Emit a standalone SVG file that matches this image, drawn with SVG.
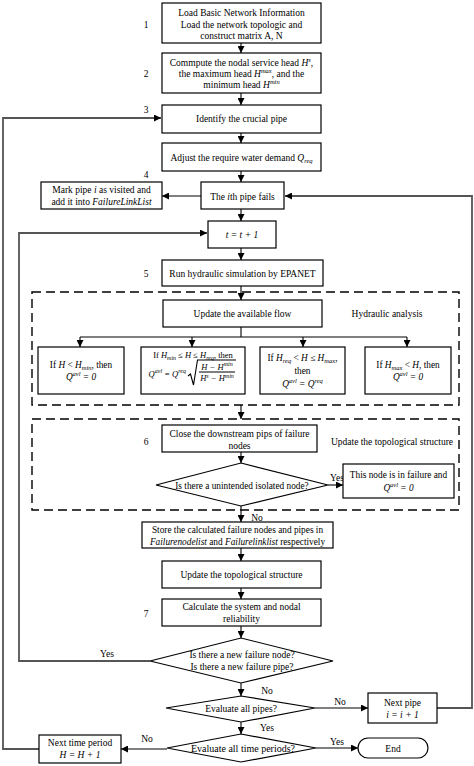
<svg xmlns="http://www.w3.org/2000/svg" width="474" height="766" viewBox="0 0 474 766">
<style>
text{font-family:"Liberation Serif","Times New Roman",serif;font-size:9.5px;fill:#000;text-anchor:middle}
.i{font-style:italic}
.box{fill:#fff;stroke:#000;stroke-width:1.2}
.dash{fill:none;stroke:#000;stroke-width:1.4;stroke-dasharray:9 5}
.ln{fill:none;stroke:#000;stroke-width:1.1}
.loop{fill:none;stroke:#555;stroke-width:1.8}
.f{font-size:8.5px}
.s{font-size:9.3px}
</style>
<defs>
<marker id="ah" viewBox="0 0 8 8" refX="8" refY="4" markerWidth="7" markerHeight="7" markerUnits="userSpaceOnUse" orient="auto">
<path d="M0,0 L8,4 L0,8 Z" fill="#000"/>
</marker>
</defs>
<rect width="474" height="766" fill="#fff"/>

<g id="groups">
<rect class="dash" x="32" y="292" width="427" height="113"/>
<rect class="dash" x="32" y="419" width="427" height="91"/>
<text x="387" y="317">Hydraulic analysis</text>
<text x="392" y="444.5">Update the topological structure</text>
</g>

<g id="steps">
<text x="146" y="27.5">1</text>
<text x="146" y="76.5">2</text>
<text x="146" y="113">3</text>
<text x="146" y="177.5">4</text>
<text x="146" y="277">5</text>
<text x="146" y="444.5">6</text>
<text x="146" y="616.5">7</text>
</g>

<g id="connectors">
<line class="ln" x1="241" y1="43" x2="241" y2="53" marker-end="url(#ah)"/>
<line class="ln" x1="241" y1="93" x2="241" y2="105" marker-end="url(#ah)"/>
<line class="ln" x1="241" y1="133" x2="241" y2="143" marker-end="url(#ah)"/>
<line class="ln" x1="241" y1="171" x2="241" y2="182" marker-end="url(#ah)"/>
<line class="ln" x1="201" y1="196" x2="162" y2="196" marker-end="url(#ah)"/>
<line class="ln" x1="241" y1="209" x2="241" y2="221" marker-end="url(#ah)"/>
<line class="ln" x1="241" y1="248" x2="241" y2="260" marker-end="url(#ah)"/>
<line class="ln" x1="241" y1="286" x2="241" y2="300" marker-end="url(#ah)"/>
<polyline class="ln" points="241,327 241,337"/>
<polyline class="ln" points="80,337 407,337"/>
<line class="ln" x1="80" y1="337" x2="80" y2="347" marker-end="url(#ah)"/>
<line class="ln" x1="192" y1="337" x2="192" y2="347" marker-end="url(#ah)"/>
<line class="ln" x1="303" y1="337" x2="303" y2="347" marker-end="url(#ah)"/>
<line class="ln" x1="407" y1="337" x2="407" y2="347" marker-end="url(#ah)"/>
<line class="ln" x1="241" y1="405" x2="241" y2="419" marker-end="url(#ah)"/>
<line class="ln" x1="241" y1="452" x2="241" y2="463" marker-end="url(#ah)"/>
<line class="ln" x1="328" y1="485" x2="343" y2="485" marker-end="url(#ah)"/>
<text x="330" y="481" style="text-anchor:start">Yes</text>
<line class="ln" x1="241" y1="506" x2="241" y2="522" marker-end="url(#ah)"/>
<text x="257" y="521">No</text>
<line class="ln" x1="241" y1="548" x2="241" y2="561" marker-end="url(#ah)"/>
<line class="ln" x1="241" y1="588" x2="241" y2="599" marker-end="url(#ah)"/>
<line class="ln" x1="241" y1="626" x2="241" y2="638" marker-end="url(#ah)"/>
<polyline class="loop" points="150,661 19,661 19,233 207,233" marker-end="url(#ah)"/>
<text x="107" y="657">Yes</text>
<line class="ln" x1="241" y1="683" x2="241" y2="696" marker-end="url(#ah)"/>
<text x="267" y="694">No</text>
<line class="ln" x1="315" y1="708" x2="368" y2="708" marker-end="url(#ah)"/>
<text x="340" y="705">No</text>
<polyline class="loop" points="437,708 472,708 472,196 285,196" marker-end="url(#ah)"/>
<line class="ln" x1="241" y1="722" x2="241" y2="734" marker-end="url(#ah)"/>
<text x="267" y="731">Yes</text>
<line class="ln" x1="167" y1="749" x2="121" y2="749" marker-end="url(#ah)"/>
<text x="147" y="742">No</text>
<polyline class="loop" points="39,749 3,749 3,118 161,118" marker-end="url(#ah)"/>
<line class="ln" x1="316" y1="748" x2="358" y2="748" marker-end="url(#ah)"/>
<text x="337" y="745">Yes</text>
</g>

<g id="n1">
<rect class="box" x="162" y="3" width="159" height="40"/>
<text x="241.5" y="15.5">Load Basic Network Information</text>
<text x="241.5" y="27.5">Load the network topologic and</text>
<text x="241.5" y="38.5">construct matrix A, N</text>
</g>

<g id="n2">
<rect class="box" x="162" y="53" width="159" height="40"/>
<text x="241.5" y="65.5">Commpute the nodal service head <tspan class="i">H</tspan><tspan class="i" font-size="6.5" dy="-4">s</tspan><tspan dy="4">,</tspan></text>
<text x="241.5" y="76.5">the maximum head <tspan class="i">H</tspan><tspan class="i" font-size="6.5" dy="-4">max</tspan><tspan dy="4">, and the</tspan></text>
<text x="241.5" y="87.5">minimum head <tspan class="i">H</tspan><tspan class="i" font-size="6.5" dy="-4">min</tspan></text>
</g>

<g id="n3">
<rect class="box" x="162" y="105" width="159" height="28"/>
<text x="241.5" y="121.5">Identify the crucial pipe</text>
</g>

<g id="n_adjust">
<rect class="box" x="162" y="143" width="159" height="28"/>
<text x="241.5" y="160.5">Adjust the require water demand <tspan class="i">Q</tspan><tspan class="i" font-size="6.5" dy="2">req</tspan></text>
</g>

<g id="n4">
<rect class="box" x="201" y="182" width="83" height="27"/>
<text x="242.5" y="199.5">The <tspan class="i">i</tspan>th pipe fails</text>
</g>

<g id="n_mark">
<rect class="box" x="41" y="182" width="121" height="27"/>
<text x="101.5" y="192.5">Mark pipe <tspan class="i">i</tspan> as visited and</text>
<text x="101.5" y="204.5">add it into <tspan class="i">FailureLinkList</tspan></text>
</g>

<g id="n_t">
<rect class="box" x="208" y="221" width="68" height="27"/>
<text x="242" y="238" class="i">t = t + 1</text>
</g>

<g id="n5">
<rect class="box" x="162" y="260" width="161" height="26"/>
<text x="242.5" y="276.5">Run hydraulic simulation by EPANET</text>
</g>

<g id="n_flow">
<rect class="box" x="163" y="300" width="159" height="27"/>
<text x="242.5" y="317">Update the available flow</text>
</g>

<g id="n_a">
<rect class="box" x="38" y="347" width="86" height="47"/>
<text x="81" y="367.5" class="s">If <tspan class="i">H</tspan> &lt; <tspan class="i">H</tspan><tspan class="i" font-size="6.5" dy="2">min</tspan><tspan dy="-2">, then</tspan></text>
<text x="81" y="380" class="i s">Q<tspan font-size="6.5" dy="-4">avl</tspan><tspan dy="4"> = 0</tspan></text>
</g>

<g id="n_b">
<rect class="box" x="141" y="347" width="104" height="47"/>
<text x="193" y="358" class="f">If <tspan class="i">H</tspan><tspan class="i" font-size="6" dy="2">min</tspan><tspan dy="-2"> ≤ </tspan><tspan class="i">H</tspan> ≤ <tspan class="i">H</tspan><tspan class="i" font-size="6" dy="2">req</tspan><tspan dy="-2">, then</tspan></text>
<text x="186" y="377" class="i f" style="text-anchor:end">Q<tspan font-size="6" dy="-4">avl</tspan><tspan dy="4"> = Q</tspan><tspan font-size="6" dy="-4">req</tspan></text>
<path class="ln" d="M188,376 L190.5,374 L193.5,385 L197.5,360 L236,360"/>
<line class="ln" x1="199" y1="372" x2="235" y2="372"/>
<text x="217" y="369.5" class="i f">H − H<tspan font-size="6" dy="-3.5">min</tspan></text>
<text x="217" y="381" class="i f">H<tspan font-size="6" dy="-3.5">s</tspan><tspan dy="3.5"> − H</tspan><tspan font-size="6" dy="-3.5">min</tspan></text>
</g>

<g id="n_c">
<rect class="box" x="260" y="347" width="85" height="47"/>
<text x="302.5" y="361" class="s">If <tspan class="i">H</tspan><tspan class="i" font-size="6.5" dy="2">req</tspan><tspan dy="-2"> &lt; </tspan><tspan class="i">H</tspan> ≤ <tspan class="i">H</tspan><tspan class="i" font-size="6.5" dy="2">max</tspan><tspan dy="-2">,</tspan></text>
<text x="302.5" y="374" class="s">then</text>
<text x="302.5" y="387" class="i s">Q<tspan font-size="6.5" dy="-4">avl</tspan><tspan dy="4"> = Q</tspan><tspan font-size="6.5" dy="-4">req</tspan></text>
</g>

<g id="n_d">
<rect class="box" x="365" y="347" width="86" height="47"/>
<text x="408" y="368" class="s">If <tspan class="i">H</tspan><tspan class="i" font-size="6.5" dy="2">max</tspan><tspan dy="-2"> &lt; </tspan><tspan class="i">H</tspan>, then</text>
<text x="408" y="380" class="i s">Q<tspan font-size="6.5" dy="-4">avl</tspan><tspan dy="4"> = 0</tspan></text>
</g>

<g id="n6">
<rect class="box" x="162" y="425" width="155" height="27"/>
<text x="239.5" y="436.5">Close the downstream pips of failure</text>
<text x="239.5" y="448.5">nodes</text>
</g>

<g id="n_iso">
<polygon class="box" points="241,463 328,485 241,506 156,485"/>
<text x="242" y="488.5" class="s">Is there a unintended isolated node?</text>
</g>

<g id="n_fail">
<rect class="box" x="343" y="464" width="111" height="34"/>
<text x="398.5" y="478" class="s">This node is in failure and</text>
<text x="398.5" y="491" class="i s">Q<tspan font-size="6.5" dy="-4">avl</tspan><tspan dy="4"> = 0</tspan></text>
</g>

<g id="n_store">
<rect class="box" x="142" y="522" width="191" height="26"/>
<text x="237.5" y="532.5" class="s">Store the calculated failure nodes and pipes in</text>
<text x="237.5" y="544.5" class="s"><tspan class="i">Failurenodelist</tspan> and <tspan class="i">Failurelinklist</tspan> respectively</text>
</g>

<g id="n_topo">
<rect class="box" x="162" y="561" width="159" height="27"/>
<text x="241.5" y="578">Update the topological structure</text>
</g>

<g id="n7">
<rect class="box" x="162" y="599" width="159" height="27"/>
<text x="241.5" y="610">Calculate the system and nodal</text>
<text x="241.5" y="622">reliability</text>
</g>

<g id="n_new">
<polygon class="box" points="241,638 333,661 241,683 150,661"/>
<text x="242" y="657.5">Is there a new failure node?</text>
<text x="242" y="670">Is there a new failure pipe?</text>
</g>

<g id="n_pipes">
<polygon class="box" points="241,696 315,708 241,722 166,708"/>
<text x="241" y="711.5">Evaluate all pipes?</text>
</g>

<g id="n_next_pipe">
<rect class="box" x="368" y="693" width="69" height="30"/>
<text x="402.5" y="705.5">Next pipe</text>
<text x="402.5" y="718" class="i">i = i + 1</text>
</g>

<g id="n_periods">
<polygon class="box" points="241,734 316,748 241,762 167,748"/>
<text x="243" y="751.5" style="font-size:10px">Evaluate all time periods?</text>
</g>

<g id="n_next_time">
<rect class="box" x="39" y="735" width="82" height="28"/>
<text x="80" y="745.5">Next time period</text>
<text x="80" y="758" class="i">H = H + 1</text>
</g>

<g id="n_end">
<rect class="box" x="358" y="738" width="70" height="20" rx="10"/>
<text x="393" y="751.5">End</text>
</g>
</svg>
